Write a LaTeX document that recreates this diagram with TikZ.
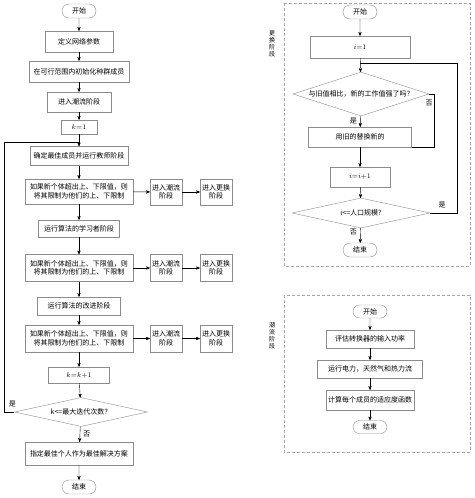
\documentclass[tikz,border=0pt]{standalone}
\usepackage{fontspec}
\setmainfont{Noto Sans CJK SC}
\usetikzlibrary{arrows, shapes, positioning}
\tikzset{
		flowbox/.style={draw=black!45, rectangle, inner sep=1pt, align=center},
		termbox/.style={draw=black!45, rounded rectangle, inner sep=1pt, minimum width=36pt, minimum height=14pt},
		choicebox/.style={draw=black!45, diamond, inner sep=0pt},
		phaseframe/.style={draw=black!35, densely dashed},
		phasetag/.style={align=center, font=\fontsize{6}{7}\selectfont}
	}

\begin{document}
\begin{tikzpicture}[>=stealth', x=1pt, y=-1pt, font=\fontsize{7}{8.5}\selectfont]
	\useasboundingbox (0,0) rectangle (474,498);

	% main loop
	\node[termbox]                                                 (st)    at (79,11)    {开始};
	\node[flowbox, minimum width=68pt,  minimum height=21pt]       (def)   at (79,41.5)  {定义网络参数};
	\node[flowbox, minimum width=100pt, minimum height=21pt]       (init)  at (79,71.5)  {在可行范围内初始化种群成员};
	\node[flowbox, minimum width=64pt,  minimum height=20pt]       (tide)  at (79,102)   {进入潮流阶段};
	\node[flowbox, minimum width=36pt,  minimum height=14pt]       (k1)    at (79,127)   {$k{=}1$};
	\node[flowbox, minimum width=98pt,  minimum height=19pt]       (teach) at (79,156)   {确定最佳成员并运行教师阶段};
	\node[flowbox, minimum width=108pt, minimum height=25pt]       (lima)  at (79,191.5) {如果新个体超出上、下限值，则\\将其限制为他们的上、下限制};
	\node[flowbox, minimum width=32pt,  minimum height=26pt]       (tida)  at (166,192)  {进入潮流\\阶段};
	\node[flowbox, minimum width=32pt,  minimum height=26pt]       (swpa)  at (216,192)  {进入更换\\阶段};
	\node[flowbox, minimum width=81pt,  minimum height=17pt]       (learn) at (79,228.5) {运行算法的学习者阶段};
	\node[flowbox, minimum width=108pt, minimum height=27pt]       (limb)  at (79,268)   {如果新个体超出上、下限值，则\\将其限制为他们的上、下限制};
	\node[flowbox, minimum width=32pt,  minimum height=27pt]       (tidb)  at (166,268)  {进入潮流\\阶段};
	\node[flowbox, minimum width=32pt,  minimum height=27pt]       (swpb)  at (216,268)  {进入更换\\阶段};
	\node[flowbox, minimum width=83pt,  minimum height=18pt]       (impr)  at (79,306)   {运行算法的改进阶段};
	\node[flowbox, minimum width=108pt, minimum height=27pt]       (limc)  at (79,338.5) {如果新个体超出上、下限值，则\\将其限制为他们的上、下限制};
	\node[flowbox, minimum width=32pt,  minimum height=27pt]       (tidc)  at (166,338.5){进入潮流\\阶段};
	\node[flowbox, minimum width=32pt,  minimum height=27pt]       (swpc)  at (216,338.5){进入更换\\阶段};
	\node[flowbox, minimum width=61pt,  minimum height=16pt]       (kinc)  at (79,375)   {$k{=}k{+}1$};
	\node[choicebox, minimum width=133pt, minimum height=29pt,
		label={center:k<=最大迭代次数？}]                            (dec)   at (81,412)   {};
	\node[flowbox, minimum width=108pt, minimum height=23pt]       (best)  at (79,453.5) {指定最佳个人作为最佳解决方案};
	\node[termbox]                                                 (fin)   at (79,487)   {结束};
	\coordinate (kjoin) at (79,142);

	\path[->] (st) edge (def)
		(def) edge (init)
		(init) edge (tide)
		(tide) edge (k1)
		(k1) edge (teach)
		(teach) edge (lima)
		(lima) edge (learn)
		(learn) edge (limb)
		(limb) edge (impr)
		(impr) edge (limc)
		(limc) edge (kinc)
		(kinc) edge (dec)
		(dec) edge node[right] {否} (best)
		(best) edge (fin);
	\path[->] (lima) edge (tida) (tida) edge (swpa);
	\path[->] (limb) edge (tidb) (tidb) edge (swpb);
	\path[->] (limc) edge (tidc) (tidc) edge (swpc);
	\draw (dec.west) -- ++(-10,0) node[above right=1pt and 1pt] {是} |- (kjoin);

	% swap phase
	\draw[phaseframe] (284,3) rectangle (470,266);
	\node[phasetag] (swtag) at (272,44) {更\\换\\阶\\段};
	\node[termbox]                                                 (rs)    at (360,12)   {开始};
	\node[flowbox, minimum width=100pt, minimum height=22pt]       (ri)    at (360,47)   {$i{=}1$};
	\node[choicebox, minimum width=136pt, minimum height=44pt,
		label={center:与旧值相比，新的工作值强了吗？}]                  (da)    at (361,94)   {};
	\node[flowbox, minimum width=103pt, minimum height=20pt]       (rep)   at (360,137)  {用旧的替换新的};
	\node[flowbox, minimum width=60pt,  minimum height=20pt]       (rinc)  at (360,177)  {$i{=}i{+}1$};
	\node[choicebox, minimum width=138pt, minimum height=30pt,
		label={center:\textit{i}<=人口规模?}]                          (db)    at (361,213)  {};
	\node[termbox]                                                 (re)    at (360,250)  {结束};
	\coordinate (rjoin) at (360,63);

	\path[->] (rs) edge (ri)
		(ri) edge (da)
		(da) edge node[left] {是} (rep)
		(rep) edge (rinc)
		(rinc) edge (db)
		(db) edge node[left, pos=0.3] {否} (re);
	\draw (da.east) -- ++(5,0) node[below left=2pt and -2pt] {否} |- (rep.south east);
	\draw (db.east) -- ++(27,0) node[above left=1pt and 8pt] {是} |- (rjoin);

	% tide phase
	\draw[phaseframe] (284,295) rectangle (470,452);
	\node[phasetag] (tdtag) at (272,336) {潮\\流\\阶\\段};
	\node[termbox, minimum height=13pt]                            (ps)    at (370,311.5){开始};
	\node[flowbox, minimum width=88pt,  minimum height=18pt]       (pe)    at (370,339)  {评估转换器的输入功率};
	\node[flowbox, minimum width=105pt, minimum height=18pt]       (pr)    at (370,369)  {运行电力，天然气和热力流};
	\node[flowbox, minimum width=88pt,  minimum height=20pt]       (pc)    at (370,400)  {计算每个成员的适应度函数};
	\node[termbox, minimum height=13pt]                            (pf)    at (370,427)  {结束};

	\path[->] (ps) edge (pe)
		(pe) edge (pr)
		(pr) edge (pc)
		(pc) edge (pf);
\end{tikzpicture}
\end{document}
